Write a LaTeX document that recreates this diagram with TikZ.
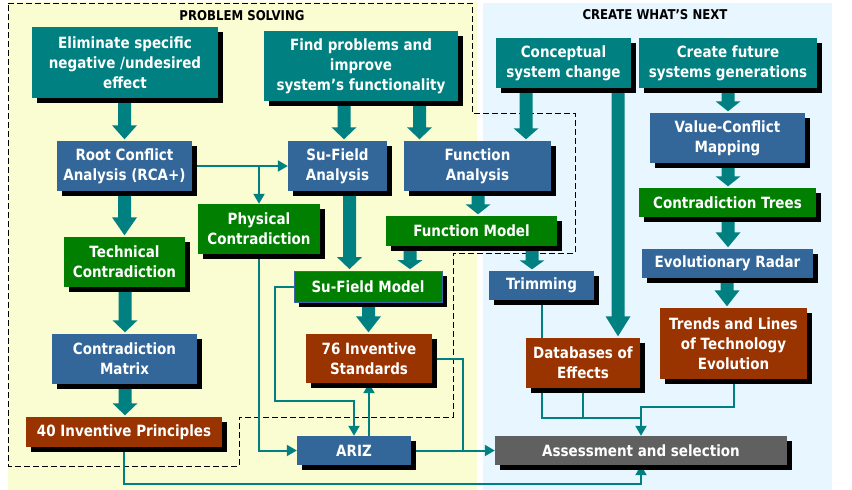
\documentclass[tikz,border=0pt]{standalone}
\usepackage{fontspec}
\setmainfont{DejaVu Sans}[FakeStretch=0.87]
\usetikzlibrary{shadows,arrows.meta,calc}
\definecolor{tealc}{HTML}{008080}
\definecolor{bluec}{HTML}{336699}
\definecolor{greenc}{HTML}{007F00}
\definecolor{brownc}{HTML}{993300}
\definecolor{grayc}{HTML}{606060}
\definecolor{yellowbg}{RGB}{250,252,210}
\definecolor{bluebg}{RGB}{232,246,255}
\definecolor{sfmborder}{RGB}{60,100,170}
\pgfdeclarelayer{bg}
\pgfdeclarelayer{lines}
\pgfsetlayers{bg,lines,main}
% fat block arrow: [head length]{x}{from node}{to node}
\newcommand\fat[4][12]{%
  \fill[tealc] let \p1=(#3.south), \p2=(#4.north), \p3=(#2,0) in
  (\x3-6.5pt,\y1) -- (\x3+6.5pt,\y1) -- (\x3+6.5pt,\y2+1.5pt+#1pt) -- (\x3+12.5pt,\y2+1.5pt+#1pt)
  -- (\x3,\y2+1.5pt) -- (\x3-12.5pt,\y2+1.5pt+#1pt) -- (\x3-6.5pt,\y2+1.5pt+#1pt) -- cycle;}
\begin{document}
\begin{tikzpicture}[x=1pt,y=-1pt,
  box/.style={rectangle, inner sep=0pt, text=white, align=center,
    font=\fontsize{15.5}{20}\selectfont\bfseries,
    general shadow={fill=black, shadow xshift=5pt, shadow yshift=-5pt}},
  ttl/.style={inner sep=0pt, text=black, font=\fontsize{13.5}{16}\selectfont\bfseries},
  conn/.style={draw=tealc, line width=2pt},
  arr/.style={-{Triangle[length=10pt,width=11pt]}}]
\useasboundingbox (0,0) rectangle (852,490);
\begin{pgfonlayer}{bg}
  \fill[white] (0,0) rectangle (852,490);
  \fill[yellowbg] (8,2) rectangle (477,490);
  \fill[bluebg] (483,3) rectangle (832,490);
  \draw[black, line width=1pt, dash pattern=on 6pt off 3pt]
    (8,3) -- (472,3) -- (472,113) -- (575,113) -- (575,253) -- (453,253)
    -- (453,417) -- (239,417) -- (239,466) -- (8,466) -- cycle;
\end{pgfonlayer}
% titles
\node[ttl] (tps) at (242,16) {PROBLEM SOLVING};
\node[ttl] (tcw) at (655,15) {CREATE WHAT’S NEXT};
% boxes
\node[box, fill=tealc, minimum width=186pt, minimum height=71pt] (elim) at (125,62.5) {Eliminate specific\\negative /undesired\\effect};
\node[box, fill=tealc, minimum width=194pt, minimum height=70pt] (find) at (361,66) {Find problems and\\improve\\system’s functionality};
\node[box, fill=tealc, minimum width=135pt, minimum height=50pt] (concept) at (563.5,63) {Conceptual\\system change};
\node[box, fill=tealc, minimum width=178pt, minimum height=50pt] (future) at (728,63) {Create future\\systems generations};
\node[box, fill=bluec, minimum width=135pt, minimum height=50pt] (rca) at (124.5,166) {Root Conflict\\Analysis (RCA+)};
\node[box, fill=bluec, minimum width=99pt, minimum height=50pt] (sfa) at (337.5,166) {Su-Field\\Analysis};
\node[box, fill=bluec, minimum width=147pt, minimum height=50pt] (fa) at (477.5,166) {Function\\Analysis};
\node[box, fill=greenc, minimum width=122pt, minimum height=50pt] (phys) at (259,229) {Physical\\Contradiction};
\node[box, fill=greenc, minimum width=121pt, minimum height=50pt] (tech) at (124.5,262) {Technical\\Contradiction};
\node[box, fill=greenc, minimum width=171pt, minimum height=30pt] (fm) at (471.5,231) {Function Model};
\node[box, fill=greenc, draw=sfmborder, line width=0.8pt, minimum width=148pt, minimum height=31pt] (sfm) at (368,286.5) {Su-Field Model};
\node[box, fill=bluec, minimum width=145pt, minimum height=50pt] (matrix) at (124.5,359) {Contradiction\\Matrix};
\node[box, fill=brownc, minimum width=196pt, minimum height=30pt] (p40) at (124,432) {40 Inventive Principles};
\node[box, fill=brownc, minimum width=126pt, minimum height=49pt] (s76) at (369,358.5) {76 Inventive\\Standards};
\node[box, fill=bluec, minimum width=114pt, minimum height=29pt] (ariz) at (354,450.5) {ARIZ};
\node[box, fill=bluec, minimum width=105pt, minimum height=29pt] (trim) at (541.5,285.5) {Trimming};
\node[box, fill=brownc, minimum width=114pt, minimum height=50pt] (db) at (583,363) {Databases of\\Effects};
\node[box, fill=brownc, minimum width=147pt, minimum height=71pt] (trends) at (733.5,343.5) {Trends and Lines\\of Technology\\Evolution};
\node[box, fill=bluec, minimum width=171pt, minimum height=29pt] (radar) at (727.5,263.5) {Evolutionary Radar};
\node[box, fill=grayc, minimum width=292pt, minimum height=29pt] (assess) at (641,450.5) {Assessment and selection};
\node[box, fill=bluec, minimum width=155pt, minimum height=50pt] (vcm) at (727.5,138) {Value-Conflict\\Mapping};
\node[box, fill=greenc, minimum width=177pt, minimum height=29pt] (ctrees) at (727.5,202.5) {Contradiction Trees};
% connectors
\begin{pgfonlayer}{lines}
  \fat[14]{124.5}{elim}{rca}
  \fat[12]{344}{find}{sfa}
  \fat[12]{419.5}{find}{fa}
  \fat[11]{526}{concept}{fa}
  \fat[20]{618}{concept}{db}
  \fat[10]{728}{future}{vcm}
  \fat[10]{728}{vcm}{ctrees}
  \fat[15]{728}{ctrees}{radar}
  \fat[16]{727}{radar}{trends}
  \fat[18]{124.5}{rca}{tech}
  \fat[12]{125}{tech}{matrix}
  \fat[12]{125}{matrix}{p40}
  \fat[12]{349.5}{sfa}{sfm}
  \fat[9]{410}{fm}{sfm}
  \fat[10]{478}{fa}{fm}
  \fat[9]{532}{fm}{trim}
  \fat[16]{368.5}{sfm}{s76}
  \draw[conn,arr] (rca.east) -- (sfa.west);
  \draw[conn,arr] (phys.north |- rca.east) -- (phys.north);
  \draw[conn,arr] (phys.south) |- (ariz.west);
  \draw[conn,arr] (sfm.west) -- ++(-19,0) |- ([yshift=35pt]ariz.north) -- (ariz.north);
  \draw[conn,arr] (ariz.north -| s76.south) -- (s76.south);
  \draw[conn,arr] (ariz.east) -- (assess.west);
  \draw[conn] (s76.east) -- ++(31,0) coordinate (kB) -- (kB |- ariz.east);
  \draw[conn,arr] (p40.south) -- ++(0,37) -| (assess.south);
  \coordinate (jlow) at (641,418);
  \coordinate (jhigh) at (641,407);
  \draw[conn] (trim.south) |- (jlow);
  \draw[conn] (db.south) -- (db.south |- jlow);
  \draw[conn,arr] (trends.south) |- (jhigh) -- (assess.north);
\end{pgfonlayer}
\end{tikzpicture}
\end{document}
